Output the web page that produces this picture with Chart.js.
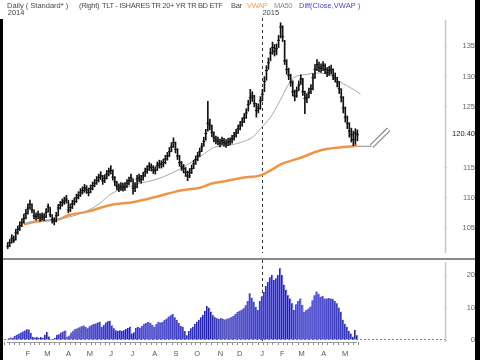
<!DOCTYPE html>
<html>
<head>
<meta charset="utf-8">
<title>TLT daily</title>
<script src="https://cdn.jsdelivr.net/npm/chart.js@4.4.1/dist/chart.umd.min.js"></script>
<style>
  html, body { margin: 0; padding: 0; background: #fff; }
  #wrap { position: relative; width: 480px; height: 360px; overflow: hidden; font-family: "Liberation Sans", Arial, sans-serif; font-size: 7.5px; }
  #wrap canvas { position: absolute; left: 0; }
  #top { top: 0; }
  #bottom { top: 260px; }
  .txt { position: absolute; top: 1px; white-space: nowrap; line-height: 9px; }
  .tight { letter-spacing: -0.35px; }
  .edge { position: absolute; background: #000; }
  #sep { position: absolute; left: 0; top: 258px; width: 475px; height: 2px; background: #8a8a8a; }
</style>
</head>
<body>
<div id="wrap">
  <canvas id="top" width="475" height="258"></canvas>
  <canvas id="bottom" width="475" height="100"></canvas>
  <div id="sep"></div>
  <div class="edge" style="left:0;top:19px;width:3px;height:341px"></div>
  <div class="edge" style="left:475px;top:0;width:5px;height:360px"></div>
  <span class="txt" style="left:7px;color:#4a4a4a">Daily ( Standard* )</span>
  <span class="txt tight" style="left:79px;color:#4a4a4a">(Right)</span>
  <span class="txt tight" style="left:102px;color:#4a4a4a">TLT - ISHARES TR 20+ YR TR BD ETF</span>
  <span class="txt tight" style="left:231px;color:#4a4a4a">Bar</span>
  <span class="txt tight" style="left:247px;color:#f0a060">VWAP</span>
  <span class="txt tight" style="left:274px;color:#8c8c8c">MA50</span>
  <span class="txt" style="left:299px;color:#4848cc">Diff(Close,VWAP )</span>
</div>
<script>
// trading days since 2 Jan 2014, one bar every 2 days
const barStep = 2;
const monthLetters = ['', 'F', 'M', 'A', 'M', 'J', 'J', 'A', 'S', 'O', 'N', 'D', 'J', 'F', 'M', 'A', 'M'];
const monthStarts = [0, 21, 40, 61, 82, 103, 124, 146, 167, 188, 211, 230, 252, 272, 291, 313, 334];
const years = ['2014', '2015'];
const yearStarts = [0, 252];

const closes = [
  102.0, 102.6, 103.3, 103.0, 104.2, 104.8, 105.4, 105.9, 106.6, 107.4,
  108.3, 108.9, 108.0, 107.0, 106.9, 107.2, 106.7, 107.0, 106.8, 107.6,
  108.5, 107.2, 106.4, 106.1, 107.0, 108.3, 108.8, 109.2, 109.5, 109.8,
  108.0, 108.4, 109.0, 109.4, 110.0, 110.4, 110.9, 111.2, 111.6, 111.3,
  110.9, 111.5, 112.0, 112.4, 112.9, 113.3, 113.6, 112.8, 113.2, 113.9,
  114.3, 114.5, 113.4, 112.6, 111.9, 111.6, 111.9, 111.7, 111.9, 112.4,
  112.8, 113.3, 111.6, 111.8, 113.1, 113.3, 113.0, 113.6, 114.3, 114.7,
  115.2, 115.0, 114.6, 114.5, 115.3, 115.6, 115.5, 115.8, 116.4, 116.9,
  117.6, 118.4, 119.1, 118.0, 116.9, 115.8, 115.1, 114.8, 114.2, 113.6,
  114.2, 114.8, 115.6, 116.3, 116.9, 117.6, 118.4, 119.3, 120.6, 122.3,
  122.0, 120.8, 119.9, 119.5, 119.3, 119.0, 119.4, 119.1, 118.9, 119.2,
  119.3, 119.7, 120.2, 120.7, 121.4, 122.0, 122.5, 123.2, 124.0, 125.4,
  126.5, 126.8, 125.6, 124.4, 124.8, 126.0, 127.1, 129.2, 131.0, 132.3,
  133.9, 134.8, 134.2, 134.6, 136.0, 138.2, 136.6, 132.6, 131.2, 130.2,
  129.1, 127.5, 126.8, 127.6, 128.6, 129.6, 127.5, 126.4, 126.5, 127.4,
  128.0, 129.8, 131.2, 132.0, 131.5, 131.4, 131.8, 131.2, 130.7, 131.0,
  131.2, 130.2, 129.8, 129.1, 128.0, 126.6, 124.8, 123.3, 122.3, 121.0,
  120.4, 119.6, 120.7, 120.4
];
const highs = [
  102.6, 103.1, 103.9, 103.7, 104.8, 105.3, 106.0, 106.5, 107.3, 108.1,
  109.0, 109.6, 109.0, 108.0, 107.5, 107.8, 107.4, 107.5, 107.4, 108.2,
  109.0, 108.4, 107.2, 106.7, 107.6, 108.9, 109.4, 109.8, 110.1, 110.4,
  109.6, 109.0, 109.6, 110.0, 110.6, 111.0, 111.5, 111.8, 112.2, 112.0,
  111.6, 112.1, 112.6, 113.0, 113.5, 113.9, 114.3, 113.7, 113.8, 114.5,
  114.9, 115.3, 114.6, 113.5, 112.7, 112.3, 112.5, 112.4, 112.5, 113.0,
  113.4, 113.9, 113.1, 112.5, 113.7, 113.9, 113.7, 114.2, 114.9, 115.3,
  115.8, 115.6, 115.3, 115.1, 115.9, 116.2, 116.1, 116.4, 117.0, 117.5,
  118.3, 119.1, 119.9, 119.2, 118.1, 117.0, 116.0, 115.5, 115.0, 114.4,
  114.8, 115.4, 116.2, 116.9, 117.5, 118.2, 119.0, 120.0, 121.3, 125.9,
  123.0, 122.0, 120.9, 120.2, 120.0, 119.7, 120.0, 119.8, 119.6, 119.8,
  119.9, 120.3, 120.8, 121.3, 122.0, 122.6, 123.2, 123.9, 124.7, 126.1,
  127.9, 127.5, 126.9, 125.6, 125.5, 126.7, 127.9, 130.0, 131.8, 133.1,
  134.7, 135.7, 135.3, 135.4, 136.8, 138.9, 138.4, 136.0, 132.8, 131.4,
  130.4, 129.3, 127.8, 128.3, 129.3, 130.3, 129.7, 127.6, 127.2, 128.1,
  128.7, 130.5, 132.0, 132.8, 132.4, 132.1, 132.5, 132.1, 131.5, 131.7,
  131.9, 131.3, 130.6, 129.9, 129.2, 128.0, 126.7, 125.0, 123.5, 122.4,
  121.5, 121.0, 121.4, 121.2
];
const lows = [
  101.6, 101.9, 102.5, 102.6, 103.0, 104.0, 104.6, 105.2, 105.8, 106.5,
  107.3, 108.1, 107.5, 106.5, 106.3, 106.5, 106.1, 106.3, 106.2, 106.7,
  107.6, 106.8, 105.8, 105.5, 106.0, 107.0, 108.1, 108.6, 108.9, 109.1,
  107.5, 107.7, 108.2, 108.8, 109.2, 109.8, 110.2, 110.6, 110.9, 110.7,
  110.3, 110.8, 111.3, 111.8, 112.2, 112.6, 113.0, 112.2, 112.5, 113.1,
  113.6, 113.9, 112.9, 112.0, 111.3, 111.0, 111.2, 111.1, 111.2, 111.7,
  112.1, 112.6, 110.6, 111.0, 111.6, 112.6, 112.4, 112.9, 113.5, 114.0,
  114.5, 114.4, 114.0, 113.9, 114.5, 114.9, 114.9, 115.1, 115.6, 116.2,
  116.8, 117.6, 118.3, 117.4, 116.3, 115.2, 114.5, 114.1, 113.5, 112.8,
  113.3, 114.0, 114.8, 115.5, 116.1, 116.8, 117.6, 118.5, 119.5, 121.0,
  121.2, 120.1, 119.2, 118.9, 118.7, 118.4, 118.7, 118.5, 118.3, 118.6,
  118.7, 119.0, 119.5, 120.0, 120.6, 121.2, 121.8, 122.4, 123.1, 124.3,
  125.5, 125.9, 125.0, 123.3, 124.0, 124.6, 126.0, 127.5, 129.4, 131.2,
  132.6, 133.7, 133.4, 133.6, 134.8, 136.4, 135.8, 132.0, 130.4, 129.5,
  128.4, 126.8, 126.0, 126.6, 127.7, 128.7, 126.9, 123.9, 125.7, 126.5,
  127.2, 127.8, 129.7, 131.0, 130.8, 130.7, 131.0, 130.5, 130.0, 130.2,
  130.4, 129.5, 129.1, 128.3, 127.2, 125.8, 124.0, 122.5, 121.4, 120.0,
  119.2, 118.6, 118.8, 119.4
];
// Diff(Close, VWAP)
const diffs = [
  0.2, 0.5, 0.8, 0.6, 1.2, 1.6, 1.9, 2.3, 2.6, 2.9,
  3.3, 3.2, 2.2, 1.0, 0.8, 1.0, 0.6, 0.9, 0.7, 1.6,
  2.5, 1.1, 0.3, 0.2, 0.7, 1.6, 1.8, 2.3, 2.6, 2.9,
  1.0, 1.4, 2.3, 2.9, 3.4, 3.6, 3.9, 4.2, 4.5, 4.1,
  3.6, 4.2, 4.6, 4.9, 5.1, 5.4, 5.6, 4.0, 4.6, 5.4,
  5.8, 5.9, 4.5, 3.6, 3.0, 2.8, 3.0, 2.8, 3.0, 3.4,
  3.7, 4.1, 2.0, 2.4, 3.8, 4.1, 3.8, 4.4, 5.0, 5.3,
  5.6, 5.2, 4.6, 4.1, 5.0, 5.6, 5.4, 5.6, 6.2, 6.6,
  7.2, 7.6, 8.0, 7.0, 6.2, 5.2, 4.4, 4.1, 2.8, 1.5,
  2.8, 3.6, 4.1, 5.0, 5.6, 6.2, 7.0, 7.7, 9.0, 10.5,
  9.9, 8.7, 7.6, 7.0, 6.7, 6.5, 6.8, 6.5, 6.3, 6.6,
  6.7, 7.1, 7.5, 8.0, 8.6, 9.0, 9.3, 9.8, 10.7, 12.0,
  14.4, 13.0, 11.8, 10.2, 9.2, 12.0, 13.5, 14.8, 16.6, 17.9,
  19.3, 20.0, 18.5, 19.0, 20.0, 22.1, 20.0, 17.0, 15.5, 13.8,
  12.8, 11.3, 9.2, 11.0, 12.0, 12.8, 10.8, 8.7, 9.2, 9.7,
  10.3, 12.2, 13.8, 14.9, 14.2, 13.3, 13.6, 12.8, 12.8, 12.9,
  12.8, 12.6, 12.0, 11.3, 10.0, 8.7, 6.2, 5.0, 4.1, 2.8,
  2.0, 1.0, 3.1, 1.5
];
const maDays = [20, 48, 69, 89, 102, 125, 150, 171, 184, 194, 204, 217, 230, 243, 250, 260, 270, 277, 283, 297, 306, 319, 329, 342, 349];
const maValues = [105.9, 106.4, 107.2, 108.8, 110.6, 112.1, 113.2, 114.8, 116.1, 117.2, 118.3, 118.6, 119.1, 120.1, 121.4, 123.3, 126.2, 128.5, 129.8, 130.4, 130.6, 130.2, 129.1, 127.9, 127.1];
const vwapDays = [16, 26, 43, 50, 60, 79, 102, 125, 148, 171, 191, 201, 217, 233, 250, 263, 270, 290, 309, 328, 342, 346];
const vwapValues = [105.6, 106.0, 106.3, 106.4, 107.1, 107.7, 108.8, 109.3, 110.2, 111.2, 111.7, 112.3, 112.8, 113.3, 113.7, 114.8, 115.5, 116.6, 117.8, 118.3, 118.5, 118.6];
const flatDays = [346, 360];
const flatValues = [118.5, 118.5];
const arrowDays = [360, 377];
const arrowValues = [118.5, 121.3];
const priceTicks = [105, 110, 115, 125, 130, 135];
const diffTicks = [0, 10, 20];
const lastPrice = 120.40;

// axis ranges (pixel fit of the panes)
const X_MIN = -2.7, X_MAX = 432.65;
const FONT = '"Liberation Sans", Arial, sans-serif';

function pairs(xs, ys) {
  return xs.map((x, i) => ({ x: x, y: ys[i] }));
}

function rightAxis(min, max, tickValues, padding) {
  return {
    type: 'linear', position: 'right', min: min, max: max,
    border: { display: false },
    grid: { drawOnChartArea: false, tickLength: 2, color: '#b8b8b8' },
    ticks: { crossAlign: 'far', padding: padding, color: '#666' },
    afterBuildTicks(scale) { scale.ticks = tickValues.map(v => ({ value: v })); },
    afterFit(scale) { scale.width = 30; scale.paddingTop = 0; scale.paddingBottom = 0; }
  };
}

const paneDecor = {
  id: 'paneDecor',
  beforeDatasetsDraw(chart, args, opts) {
    const { ctx, chartArea: a, scales } = chart;
    ctx.save();
    ctx.strokeStyle = '#c6c6c6';
    ctx.lineWidth = 1.5;
    ctx.beginPath();
    ctx.moveTo(a.right + 0.5, opts.axisTop);
    ctx.lineTo(a.right + 0.5, a.bottom);
    ctx.stroke();
    if (opts.zeroLine) {
      let zy = Math.round(scales.y.getPixelForValue(0)) - 0.5;
      ctx.strokeStyle = '#808080';
      ctx.lineWidth = 1;
      ctx.setLineDash([2, 2]);
      ctx.beginPath();
      ctx.moveTo(a.left, zy);
      ctx.lineTo(a.right, zy);
      ctx.stroke();
    }
    let yx = Math.round(scales.x.getPixelForValue(yearStarts[1])) + 0.5;
    ctx.strokeStyle = '#333';
    ctx.lineWidth = 1;
    ctx.setLineDash([3, 3]);
    ctx.beginPath();
    ctx.moveTo(yx, opts.lineTop);
    ctx.lineTo(yx, a.bottom);
    ctx.stroke();
    ctx.restore();
  },
  afterDraw(chart, args, opts) {
    const { ctx, chartArea: a, scales } = chart;
    ctx.save();
    ctx.font = '7.5px ' + FONT;
    ctx.textBaseline = 'middle';
    if (opts.years) {
      ctx.fillStyle = '#444';
      years.forEach((t, i) => ctx.fillText(t, scales.x.getPixelForValue(yearStarts[i]), 13));
      ctx.fillStyle = '#222';
      ctx.textAlign = 'right';
      ctx.fillText(lastPrice.toFixed(2), 475, scales.y.getPixelForValue(lastPrice) - 1);
    }
    if (opts.baseLine) {
      let last = (closes.length - 1) * barStep;
      ctx.strokeStyle = '#9a9a9a';
      ctx.lineWidth = 1;
      ctx.beginPath();
      ctx.moveTo(scales.x.getPixelForValue(0), a.bottom + 0.5);
      ctx.lineTo(scales.x.getPixelForValue(last), a.bottom + 0.5);
      ctx.stroke();
    }
    ctx.restore();
  }
};

window.addEventListener('load', () => {
  Chart.defaults.font.family = FONT;
  Chart.defaults.font.size = 7.5;
  Chart.defaults.animation = false;
  Chart.defaults.plugins.legend.display = false;
  Chart.defaults.plugins.tooltip.enabled = false;

  let dayOf = i => i * barStep;

  let priceChart = new Chart(document.getElementById('top'), {
    type: 'bar',
    data: {
      datasets: [
        { type: 'bar', data: highs.map((h, i) => ({ x: dayOf(i), y: [lows[i], h] })), backgroundColor: '#111', barThickness: 1, order: 1 },
        { type: 'line', data: closes.map((c, i) => ({ x: dayOf(i), y: c })), showLine: false, pointStyle: 'line', pointRadius: 1.5, pointBorderWidth: 1, pointBorderColor: '#111', order: 0 },
        { type: 'line', data: pairs(maDays, maValues), borderColor: '#a8a8a8', borderWidth: 1, pointRadius: 0, cubicInterpolationMode: 'monotone', order: 3 },
        { type: 'line', data: pairs(vwapDays, vwapValues), borderColor: '#ef9548', borderWidth: 2.5, pointRadius: 0, cubicInterpolationMode: 'monotone', order: 4 },
        { type: 'line', data: pairs(flatDays, flatValues), borderColor: '#8a8a8a', borderWidth: 1, pointRadius: 0, order: 5 },
        { type: 'line', data: pairs(arrowDays, arrowValues), borderColor: '#fff', borderWidth: 2.5, pointRadius: 0, order: 5.5 },
        { type: 'line', data: pairs(arrowDays, arrowValues), borderColor: '#8a8a8a', borderWidth: 5, pointRadius: 0, order: 6 }
      ]
    },
    options: {
      responsive: false,
      layout: { padding: { left: 4, right: 0, top: 0, bottom: 0 } },
      scales: {
        x: { type: 'linear', display: false, offset: false, min: X_MIN, max: X_MAX },
        y: rightAxis(100.87, 141.83, priceTicks, 12.5)
      },
      plugins: { paneDecor: { axisTop: 20, lineTop: 18, years: true } }
    },
    plugins: [paneDecor]
  });

  let diffChart = new Chart(document.getElementById('bottom'), {
    type: 'bar',
    data: {
      datasets: [{
        data: diffs.map((v, i) => ({ x: dayOf(i), y: v })),
        backgroundColor: '#7474e4',
        borderColor: '#1e1ea8',
        borderWidth: { left: 1, right: 0, top: 0, bottom: 0 },
        barPercentage: 1,
        categoryPercentage: 1
      }]
    },
    options: {
      responsive: false,
      layout: { padding: { left: 4, right: 0, top: 1, bottom: 0 } },
      scales: {
        x: {
          type: 'linear', offset: false, min: X_MIN, max: X_MAX,
          border: { display: false },
          grid: { drawOnChartArea: false, tickLength: 3, color: '#8c8c8c' },
          ticks: {
            autoSkip: false, maxRotation: 0, padding: 4, color: '#555',
            callback: v => {
              let i = monthStarts.indexOf(v);
              return i < 0 ? '' : monthLetters[i];
            }
          },
          afterBuildTicks(scale) {
            let ticks = monthStarts.map(v => ({ value: v }));
            for (let d = 0; d <= 345; d += 5) {
              if (!monthStarts.some(m => Math.abs(m - d) < 3)) ticks.push({ value: d });
            }
            ticks.sort((a, b) => a.value - b.value);
            scale.ticks = ticks;
          },
          afterFit(scale) { scale.height = 18; scale.paddingLeft = 0; scale.paddingRight = 0; }
        },
        y: rightAxis(-0.615, 24.31, diffTicks, 16.7)
      },
      plugins: { paneDecor: { axisTop: 2, lineTop: 0, zeroLine: true, baseLine: true } }
    },
    plugins: [paneDecor]
  });
});
</script>
</body>
</html>
